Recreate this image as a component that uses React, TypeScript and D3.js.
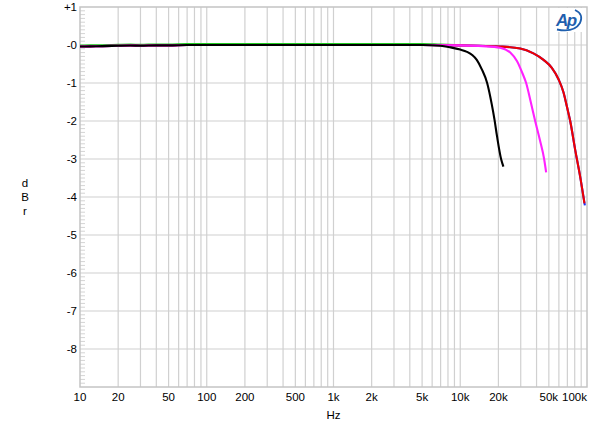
import React, { useEffect, useRef } from 'react';
import * as d3 from 'd3';

// frequency response, dBr vs Hz
const lowFreqs = [10, 12, 15, 20, 25, 30, 40, 50, 70, 100, 150, 200, 300, 500, 700, 1000, 2000, 3000, 5000];
const lowDb = [-0.04, -0.035, -0.03, -0.02, -0.015, -0.02, -0.01, -0.01, 0, 0, 0, 0, 0, 0, 0, 0, 0, 0, 0];

const greenFreqs = [...lowFreqs, 7000, 9000];
const greenDb = [...lowDb.map(v => v + 0.025), 0.01, 0];

const blackFreqs = [...lowFreqs, 7000, 8300, 10000, 11300, 12500, 13500, 14800, 16300, 17700, 18600, 19500, 21000, 21900];
const blackDb = [...lowDb, -0.02, -0.06, -0.12, -0.18, -0.27, -0.39, -0.64, -1.0, -1.55, -1.95, -2.4, -3.0, -3.2];

const magentaFreqs = [...lowFreqs, 10000, 15000, 20600, 24800, 28000, 31000, 33100, 36000, 39000, 42500, 45900, 47600];
const magentaDb = [...lowDb, -0.01, -0.03, -0.07, -0.2, -0.42, -0.75, -1.0, -1.5, -2.0, -2.5, -3.0, -3.35];

const redFreqs = [...lowFreqs, 10000, 20600, 29700, 37800, 45400, 52800, 59600, 65300, 69400, 73700, 80700, 88400, 95500];
const redDb = [...lowDb, -0.01, -0.04, -0.09, -0.22, -0.39, -0.6, -0.9, -1.25, -1.62, -2.0, -2.76, -3.47, -4.17];

const blueFreqs = [...redFreqs.slice(0, -1), 96200];
const blueDb = [...redDb.slice(0, -1), -4.22];

const xTicks = [10, 20, 50, 100, 200, 500, 1000, 2000, 5000, 10000, 20000, 50000, 100000];
const xTickLabels = ['10', '20', '50', '100', '200', '500', '1k', '2k', '5k', '10k', '20k', '50k', '100k'];
const yTicks = [1, 0, -1, -2, -3, -4, -5, -6, -7, -8];
const yTickLabels = ['+1', '-0', '-1', '-2', '-3', '-4', '-5', '-6', '-7', '-8'];

const series = [
  { freqs: greenFreqs, db: greenDb, color: '#22cc22' },
  { freqs: blueFreqs, db: blueDb, color: '#1a33ff' },
  { freqs: redFreqs, db: redDb, color: '#ee0000' },
  { freqs: magentaFreqs, db: magentaDb, color: '#ff22ff' },
  { freqs: blackFreqs, db: blackDb, color: '#000000' },
];

const App: React.FC = () => {
  const svgRef = useRef<SVGSVGElement>(null);

  useEffect(() => {
    if (!svgRef.current) return;
    const svg = d3.select(svgRef.current);
    svg.selectAll('*').remove();

    const left = 80, right = 587, top = 7, bottom = 387;
    const x = d3.scaleLog().domain([10, 100000]).range([left, right]);
    const y = d3.scaleLinear().domain([-9, 1]).range([bottom, top]);
    const font = 'Arial, "Liberation Sans", sans-serif';

    svg.append('rect')
      .attr('x', 0).attr('y', 0).attr('width', 600).attr('height', 430)
      .attr('fill', '#fff');

    // vertical grid at every 1..9 per decade
    const vLines: number[] = [];
    for (let dec = 10; dec < 100000; dec *= 10) {
      for (let m = 1; m < 10; m++) vLines.push(dec * m);
    }
    svg.append('g')
      .selectAll('line')
      .data(vLines.filter(f => f > 10))
      .enter()
      .append('line')
      .attr('x1', d => x(d)).attr('x2', d => x(d))
      .attr('y1', top).attr('y2', bottom)
      .attr('stroke', '#d0d0d0').attr('stroke-width', 1.2);

    // horizontal grid
    svg.append('g')
      .selectAll('line')
      .data(d3.range(-8, 1))
      .enter()
      .append('line')
      .attr('x1', left).attr('x2', right)
      .attr('y1', d => y(d)).attr('y2', d => y(d))
      .attr('stroke', '#d0d0d0').attr('stroke-width', 1.2);

    // minor ticks on left edge
    svg.append('g')
      .selectAll('line')
      .data(d3.range(-89, 10).map(v => v / 10).filter(v => Math.abs(v - Math.round(v)) > 0.01))
      .enter()
      .append('line')
      .attr('x1', left).attr('x2', left + 5)
      .attr('y1', d => y(d)).attr('y2', d => y(d))
      .attr('stroke', '#d4d4d4').attr('stroke-width', 1);

    // frame
    svg.append('rect')
      .attr('x', left).attr('y', top)
      .attr('width', right - left).attr('height', bottom - top)
      .attr('fill', 'none').attr('stroke', '#c4c4c4').attr('stroke-width', 1.5);

    // Ap logo (white patch behind it)
    svg.append('rect')
      .attr('x', 553).attr('y', 8).attr('width', 32).attr('height', 24)
      .attr('fill', '#fff');
    const logo = svg.append('g').attr('fill', '#1f5fae').attr('stroke', '#1f5fae');
    logo.append('text')
      .attr('x', 556)
      .attr('y', 26)
      .attr('font-family', font)
      .attr('font-style', 'italic')
      .attr('font-weight', 'bold')
      .attr('font-size', 17)
      .attr('stroke', 'none')
      .attr('letter-spacing', -1.5)
      .text('Ap');
    logo.append('path')
      .attr('d', 'M557,29.5 Q574,33 580,23 Q584,14 575,10')
      .attr('fill', 'none')
      .attr('stroke-width', 1.8);

    // curves
    const line = d3.line<[number, number]>()
      .x(d => x(d[0]))
      .y(d => y(d[1]))
      .curve(d3.curveMonotoneX);

    series.forEach(s => {
      const pts = s.freqs.map((f, i) => [f, s.db[i]] as [number, number]);
      svg.append('path')
        .datum(pts)
        .attr('fill', 'none')
        .attr('stroke', s.color)
        .attr('stroke-width', 2.1)
        .attr('stroke-linejoin', 'round')
        .attr('d', line);
    });

    // y labels
    svg.append('g')
      .selectAll('text')
      .data(yTicks)
      .enter()
      .append('text')
      .attr('x', 77)
      .attr('y', d => y(d) + 4)
      .attr('text-anchor', 'end')
      .attr('font-family', font)
      .attr('font-size', 11.5)
      .attr('fill', '#000')
      .text((d, i) => yTickLabels[i]);

    // x labels
    svg.append('g')
      .selectAll('text')
      .data(xTicks)
      .enter()
      .append('text')
      .attr('x', d => (d === 100000 ? right : x(d)))
      .attr('y', 401)
      .attr('text-anchor', d => (d === 100000 ? 'end' : 'middle'))
      .attr('font-family', font)
      .attr('font-size', 11.5)
      .attr('fill', '#000')
      .text((d, i) => xTickLabels[i]);

    svg.append('text')
      .attr('x', (left + right) / 2)
      .attr('y', 419)
      .attr('text-anchor', 'middle')
      .attr('font-family', font)
      .attr('font-size', 11.5)
      .attr('fill', '#000')
      .text('Hz');

    ['d', 'B', 'r'].forEach((ch, i) => {
      svg.append('text')
        .attr('x', 25)
        .attr('y', 187 + i * 14)
        .attr('text-anchor', 'middle')
        .attr('font-family', font)
        .attr('font-size', 11.5)
        .attr('fill', '#000')
        .text(ch);
    });
  }, []);

  return (
    <svg
      ref={svgRef}
      width={600}
      height={430}
      style={{ position: 'absolute', left: 0, top: 0 }}
    />
  );
};

export default App;
